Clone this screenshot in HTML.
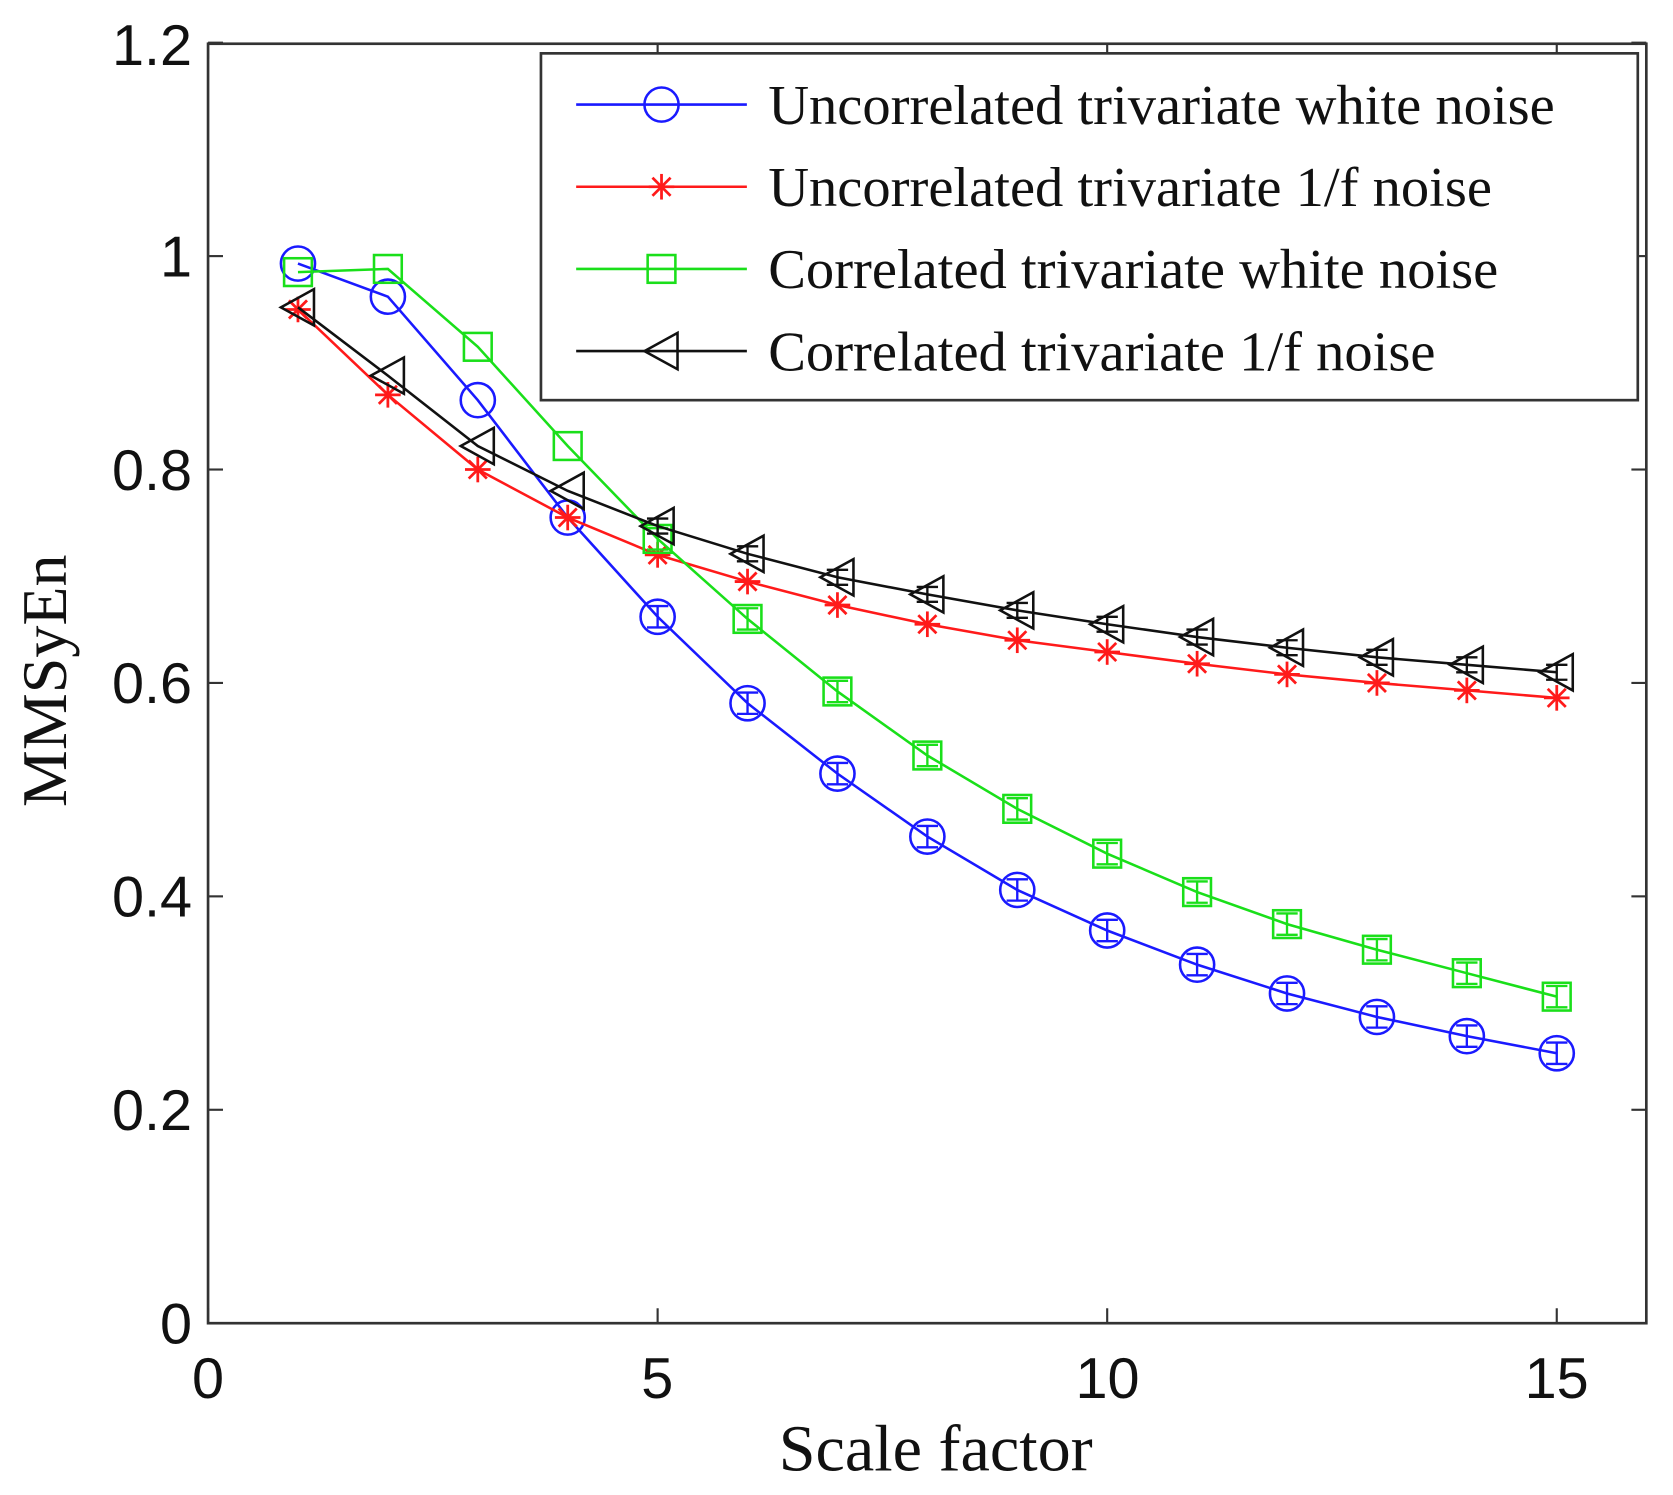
<!DOCTYPE html>
<html><head><meta charset="utf-8"><style>
html,body{margin:0;padding:0;background:#fff;}
svg{display:block;}
.t{font-family:"Liberation Sans",sans-serif;font-size:54px;fill:#111;}
.s{font-family:"Liberation Serif",serif;fill:#111;}
</style></head><body>
<svg id="c" width="1673" height="1495" viewBox="0 0 1568 1401" preserveAspectRatio="none" xmlns="http://www.w3.org/2000/svg">
<rect width="1568" height="1401" fill="#fff"/>
<g stroke="#333" stroke-width="2.5" fill="none">
<rect x="195" y="41" width="1348" height="1199"/>
</g>
<g id="ticks" stroke="#333" stroke-width="2"></g>
<g class="t" text-anchor="end">
<text x="180" y="1259">0</text>
<text x="180" y="1059">0.2</text>
<text x="180" y="859">0.4</text>
<text x="180" y="659">0.6</text>
<text x="180" y="459">0.8</text>
<text x="180" y="259">1</text>
<text x="180" y="61">1.2</text>
</g>
<g class="t" text-anchor="middle">
<text x="195" y="1310">0</text>
<text x="616" y="1310">5</text>
<text x="1038" y="1310">10</text>
<text x="1459" y="1310">15</text>
</g>
<text class="s" x="877" y="1378" text-anchor="middle" font-size="62">Scale factor</text>
<text class="s" x="62" y="638" text-anchor="middle" font-size="60" transform="rotate(-90 62 638)">MMSyEn</text>
<g id="series"></g>
<rect x="507" y="50" width="1028" height="325" fill="#fff" stroke="#333" stroke-width="2.5"/>
<g id="leg"></g>
<g class="s" font-size="53">
<text x="720" y="116">Uncorrelated trivariate white noise</text>
<text x="720" y="193">Uncorrelated trivariate 1/f noise</text>
<text x="720" y="270">Correlated trivariate white noise</text>
<text x="720" y="347">Correlated trivariate 1/f noise</text>
</g>
</svg>
<script>
var NS="http://www.w3.org/2000/svg";
function el(p,n,a){var e=document.createElementNS(NS,n);for(var k in a)e.setAttribute(k,a[k]);p.appendChild(e);return e;}
var X=function(v){return 195+84.27*v;}, Y=function(v){return 1240-1000*v;};
var tk=document.getElementById('ticks');
[0,5,10,15].forEach(function(v){var x=X(v);el(tk,'line',{x1:x,y1:1240,x2:x,y2:1226});el(tk,'line',{x1:x,y1:41,x2:x,y2:55});});
[0,.2,.4,.6,.8,1,1.2].forEach(function(v){var y=Y(v);el(tk,'line',{x1:195,y1:y,x2:209,y2:y});el(tk,'line',{x1:1543,y1:y,x2:1529,y2:y});});
var D=[
{c:'#1a1aff',m:'o',d:[.993,.962,.865,.755,.662,.581,.515,.456,.406,.368,.336,.309,.287,.269,.253]},
{c:'#ff1a1a',m:'*',d:[.95,.87,.80,.755,.72,.695,.673,.655,.64,.629,.618,.608,.600,.593,.586]},
{c:'#1adf1a',m:'s',d:[.985,.988,.915,.822,.735,.66,.592,.532,.482,.44,.404,.374,.350,.328,.306]},
{c:'#111',m:'<',d:[.952,.888,.822,.78,.747,.721,.699,.683,.668,.655,.643,.633,.624,.617,.610]}];
function marker(g,m,x,y,c,eb){
 var a={fill:'none',stroke:c,'stroke-width':2.4};
 if(m=='o'){var e=el(g,'circle',{cx:x,cy:y,r:16});for(var k in a)e.setAttribute(k,a[k]);}
 if(m=='s'){var e=el(g,'rect',{x:x-13,y:y-13,width:26,height:26});for(var k in a)e.setAttribute(k,a[k]);}
 if(m=='<'){var e=el(g,'path',{d:'M'+(x-16)+' '+y+'L'+(x+15)+' '+(y-17)+'L'+(x+15)+' '+(y+17)+'Z'});for(var k in a)e.setAttribute(k,a[k]);}
 if(m=='*'){for(var i=0;i<4;i++){var an=i*Math.PI/4;el(g,'line',{x1:x-12*Math.cos(an),y1:y-12*Math.sin(an),x2:x+12*Math.cos(an),y2:y+12*Math.sin(an),stroke:c,'stroke-width':2.6});}}
 if(eb){el(g,'line',{x1:x,y1:y-eb,x2:x,y2:y+eb,stroke:c,'stroke-width':2.2});el(g,'line',{x1:x-10,y1:y-eb,x2:x+10,y2:y-eb,stroke:c,'stroke-width':2.2});el(g,'line',{x1:x-10,y1:y+eb,x2:x+10,y2:y+eb,stroke:c,'stroke-width':2.2});}
}
var sg=document.getElementById('series');
D.forEach(function(s){
 var pts=s.d.map(function(v,i){return X(i+1)+','+Y(v);}).join(' ');
 el(sg,'polyline',{points:pts,fill:'none',stroke:s.c,'stroke-width':2.4});
 s.d.forEach(function(v,i){marker(sg,s.m,X(i+1),Y(v),s.c,(s.m=='o'||s.m=='s')&&i>3?10:(s.m=='<'&&i>3?7:0));});
});
var lg=document.getElementById('leg');
D.forEach(function(s,i){var y=98+77*i;el(lg,'line',{x1:540,y1:y,x2:700,y2:y,stroke:s.c,'stroke-width':2.4});marker(lg,s.m,620,y,s.c,0);});
</script>
</body></html>
